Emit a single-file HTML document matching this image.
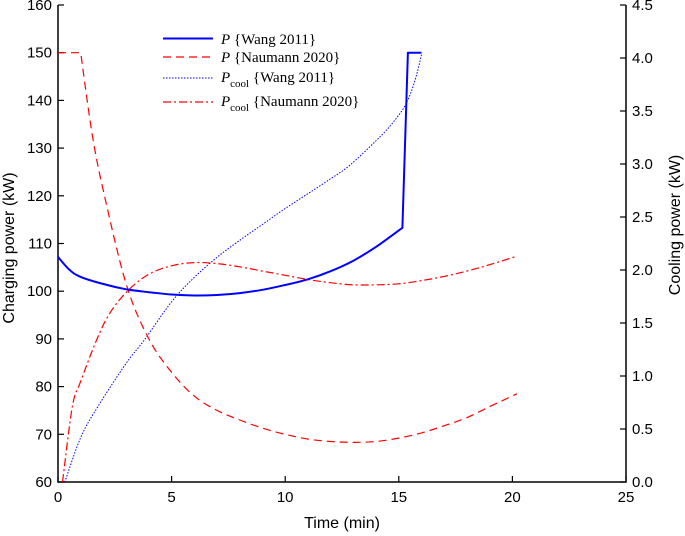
<!DOCTYPE html>
<html><head><meta charset="utf-8"><style>
html,body{margin:0;padding:0;background:#fff;}
svg{display:block;font-family:"Liberation Sans",Arial,sans-serif;}
.leg{font-family:"Liberation Serif",serif;font-size:15px;}
</style></head><body>
<svg id="chart" width="685" height="536" viewBox="0 0 685 536">
<g id="axes"></g>
<g id="series"></g>
<g id="legend">
  <line x1="163" y1="38.5" x2="213" y2="38.5" stroke="#0000ff" stroke-width="2"/>
  <text class="leg" x="221" y="44"><tspan font-style="italic">P</tspan> {Wang 2011}</text>
  <line x1="163" y1="57" x2="213" y2="57" stroke="#ff0000" stroke-width="1.2" stroke-dasharray="8,5"/>
  <text class="leg" x="221" y="62"><tspan font-style="italic">P</tspan> {Naumann 2020}</text>
  <line x1="163" y1="78" x2="213" y2="78" stroke="#0000ff" stroke-width="1" stroke-dasharray="1.5,1.5"/>
  <text class="leg" x="221" y="82"><tspan font-style="italic">P</tspan><tspan font-size="11" dy="5">cool</tspan><tspan dy="-5"> {Wang 2011}</tspan></text>
  <line x1="163" y1="102" x2="213" y2="102" stroke="#ff0000" stroke-width="1.2" stroke-dasharray="8,3,2,3"/>
  <text class="leg" x="221" y="106"><tspan font-style="italic">P</tspan><tspan font-size="11" dy="5">cool</tspan><tspan dy="-5"> {Naumann 2020}</tspan></text>
</g>
</svg>
<script>
const xTicks=[0,5,10,15,20,25];
const yLeftTicks=[60,70,80,90,100,110,120,130,140,150,160];
const yRightTicks=["0.0","0.5","1.0","1.5","2.0","2.5","3.0","3.5","4.0","4.5"];
const pWangT=[0,0.5,1,2,3,4,5,6,7,8,9,10,11,12,13,14,15.16,15.4,16];
const pWangV=[107.2,104.5,103,101.5,100.4,99.8,99.3,99.1,99.2,99.6,100.3,101.3,102.5,104.2,106.4,109.3,113.3,150,150];
const pNauT=[0,1,1.5,2,3,4,5,6,7,8,9,10,11,12,13,14,15,16,17,18,19,20.2];
const pNauV=[150,150,133,121,101.5,90,83,78,75,73,71.3,70,69,68.5,68.3,68.5,69.2,70.3,71.8,73.5,75.8,78.5];
const cWangT=[0.3,1,1.75,3,3.8,5,6,7,8,9,10,11,12,12.85,14,14.7,15.3,15.7,16];
const cWangV=[0,0.42,0.71,1.12,1.34,1.7,1.93,2.12,2.28,2.43,2.58,2.72,2.86,2.99,3.22,3.38,3.56,3.78,4.03];
const cNauT=[0.2,0.63,1,1.7,2.3,3.1,4,5,6,7,8,9,10,11,12,13,14,15,16,17,18,19,20.2];
const cNauV=[0,0.71,0.95,1.34,1.6,1.81,1.96,2.04,2.07,2.06,2.03,1.99,1.95,1.91,1.88,1.86,1.86,1.87,1.9,1.94,1.99,2.05,2.13];

const X0=58,X1=626,YB=482,YT=5;
const sx=t=>X0+(X1-X0)*t/25;
const syL=v=>YB-(YB-YT)*(v-60)/100;
const syR=v=>YB-(YB-YT)*v/4.5;
const NS="http://www.w3.org/2000/svg";
function mk(tag,attrs,parent,txt){const e=document.createElementNS(NS,tag);for(const k in attrs)e.setAttribute(k,attrs[k]);if(txt!==undefined)e.textContent=txt;parent.appendChild(e);return e;}
const axes=document.getElementById('axes');
const ser=document.getElementById('series');
let el;
el=mk('path',{d:`M${X0},${YT} V${YB} H${X1} V${YT}`,fill:'none',stroke:'#000','stroke-width':1.5},axes);


xTicks.forEach(t=>{
  el=mk('line',{x1:sx(t),x2:sx(t),y1:YB,y2:YB-6,stroke:'#000','stroke-width':1.2},axes);
  
  
  el=mk('text',{x:sx(t),y:YB+20,'text-anchor':'middle','font-size':15},axes,String(t));
  
  
});
yLeftTicks.forEach(v=>{
  el=mk('line',{x1:X0,x2:X0+6,y1:syL(v),y2:syL(v),stroke:'#000','stroke-width':1.2},axes);
  
  
  el=mk('text',{x:X0-6,y:syL(v)+5,'text-anchor':'end','font-size':15},axes,String(v));
  
  
});
yRightTicks.forEach(s=>{
  const v=parseFloat(s);
  el=mk('line',{x1:X1,x2:X1-6,y1:syR(v),y2:syR(v),stroke:'#000','stroke-width':1.2},axes);
  
  
  el=mk('text',{x:X1+6,y:syR(v)+5,'text-anchor':'start','font-size':15},axes,s);
  
  
});
el=mk('text',{x:342,y:528,'text-anchor':'middle','font-size':16},axes,'Time (min)');


el=mk('text',{x:0,y:0,'text-anchor':'middle','font-size':16,transform:'translate(14,248) rotate(-90)'},axes,'Charging power (kW)');


el=mk('text',{x:0,y:0,'text-anchor':'middle','font-size':16,transform:'translate(680,225) rotate(-90)'},axes,'Cooling power (kW)');



// smooth path (Catmull-Rom) from index s onward; points before s are straight
function smooth(T,V,fy,s){
  const P=T.map((t,i)=>[sx(t),fy(V[i])]);
  let d='M'+P[0][0].toFixed(1)+','+P[0][1].toFixed(1);
  for(let i=1;i<=s;i++)d+=' L'+P[i][0].toFixed(1)+','+P[i][1].toFixed(1);
  for(let i=s;i<P.length-1;i++){
    const p0=P[Math.max(i-1,s)],p1=P[i],p2=P[i+1],p3=P[Math.min(i+2,P.length-1)];
    const c1=[p1[0]+(p2[0]-p0[0])/6,p1[1]+(p2[1]-p0[1])/6];
    const c2=[p2[0]-(p3[0]-p1[0])/6,p2[1]-(p3[1]-p1[1])/6];
    d+=` C${c1[0].toFixed(1)},${c1[1].toFixed(1)} ${c2[0].toFixed(1)},${c2[1].toFixed(1)} ${p2[0].toFixed(1)},${p2[1].toFixed(1)}`;
  }
  return d;
}
el=mk('path',{d:smooth(cWangT,cWangV,syR,0),fill:'none',stroke:'#0000ff','stroke-width':1,'stroke-dasharray':'1.5,1.5'},ser);


el=mk('path',{d:smooth(cNauT,cNauV,syR,0),fill:'none',stroke:'#ff0000','stroke-width':1.2,'stroke-dasharray':'8,3,2,3'},ser);


el=mk('path',{d:smooth(pNauT,pNauV,syL,1),fill:'none',stroke:'#ff0000','stroke-width':1.2,'stroke-dasharray':'8,5'},ser);


// Wang P: smooth up to the corner then straight jump
const nW=pWangT.length-2;
let dW=smooth(pWangT.slice(0,nW),pWangV.slice(0,nW),syL,0);
for(let i=nW;i<pWangT.length;i++)dW+=' L'+sx(pWangT[i]).toFixed(1)+','+syL(pWangV[i]).toFixed(1);
el=mk('path',{d:dW,fill:'none',stroke:'#0000ff','stroke-width':2,'stroke-linejoin':'round'},ser);


</script>
</body></html>
